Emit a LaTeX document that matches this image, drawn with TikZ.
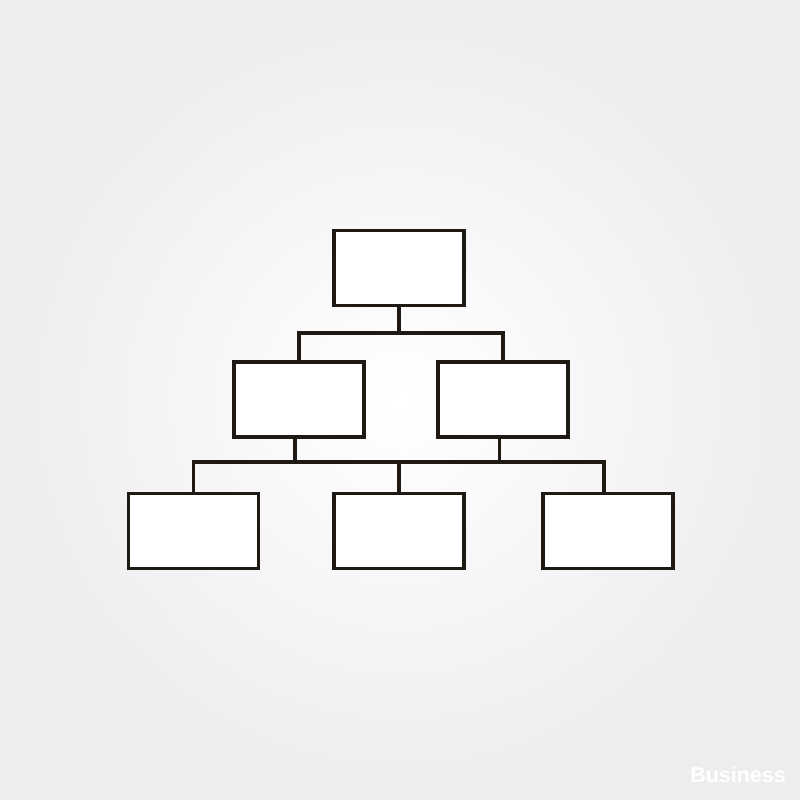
\documentclass[tikz,border=0pt]{standalone}
\usepackage{fontspec}
\setsansfont{Liberation Sans}
\usetikzlibrary{positioning}

\definecolor{ink}{RGB}{30,25,18}
\definecolor{bggray}{RGB}{237,237,237}

\begin{document}
\begin{tikzpicture}[x=0.01cm, y=-0.01cm,
    box/.style={draw=ink, line width=0.95pt, fill=white, minimum width=1.3cm, minimum height=0.75cm, inner sep=0pt},
    link/.style={draw=ink, line width=0.95pt}]
    \useasboundingbox (0,0) rectangle (800,800);
    \shade[inner color=white, outer color=bggray] (0,0) rectangle (800,800);

    % levels of the chart
    \node[box] (top) at (399,268) {};
    \node[box] (midL) at (299,399.5) {};
    \node[box] (midR) at (503,399.5) {};
    \node[box] (botL) at (193.5,531) {};
    \node[box] (botM) at (399,531) {};
    \node[box] (botR) at (608,531) {};

    % junctions on the two bus lines
    \coordinate (busA) at (399,333);
    \coordinate (busL) at (295,462);
    \coordinate (busR) at (499.5,462);
    \coordinate (busB) at (604,462);

    \draw[link] (top.south) -- (busA);
    \draw[link] (midL.north) -- (midL.north |- busA) -- (midR.north |- busA) -- (midR.north);

    \draw[link] (busL |- midL.south) -- (busL);
    \draw[link] (busR |- midR.south) -- (busR);
    \draw[link] (botL.north) -- (botL.north |- busL) -- (busB) -- (busB |- botR.north);
    \draw[link] (botM.north) -- (botM.north |- busL);

    \node[text=white, font=\sffamily\bfseries\fontsize{6.1}{7}\selectfont] (tag) at (738,775) {Business};
\end{tikzpicture}
\end{document}
